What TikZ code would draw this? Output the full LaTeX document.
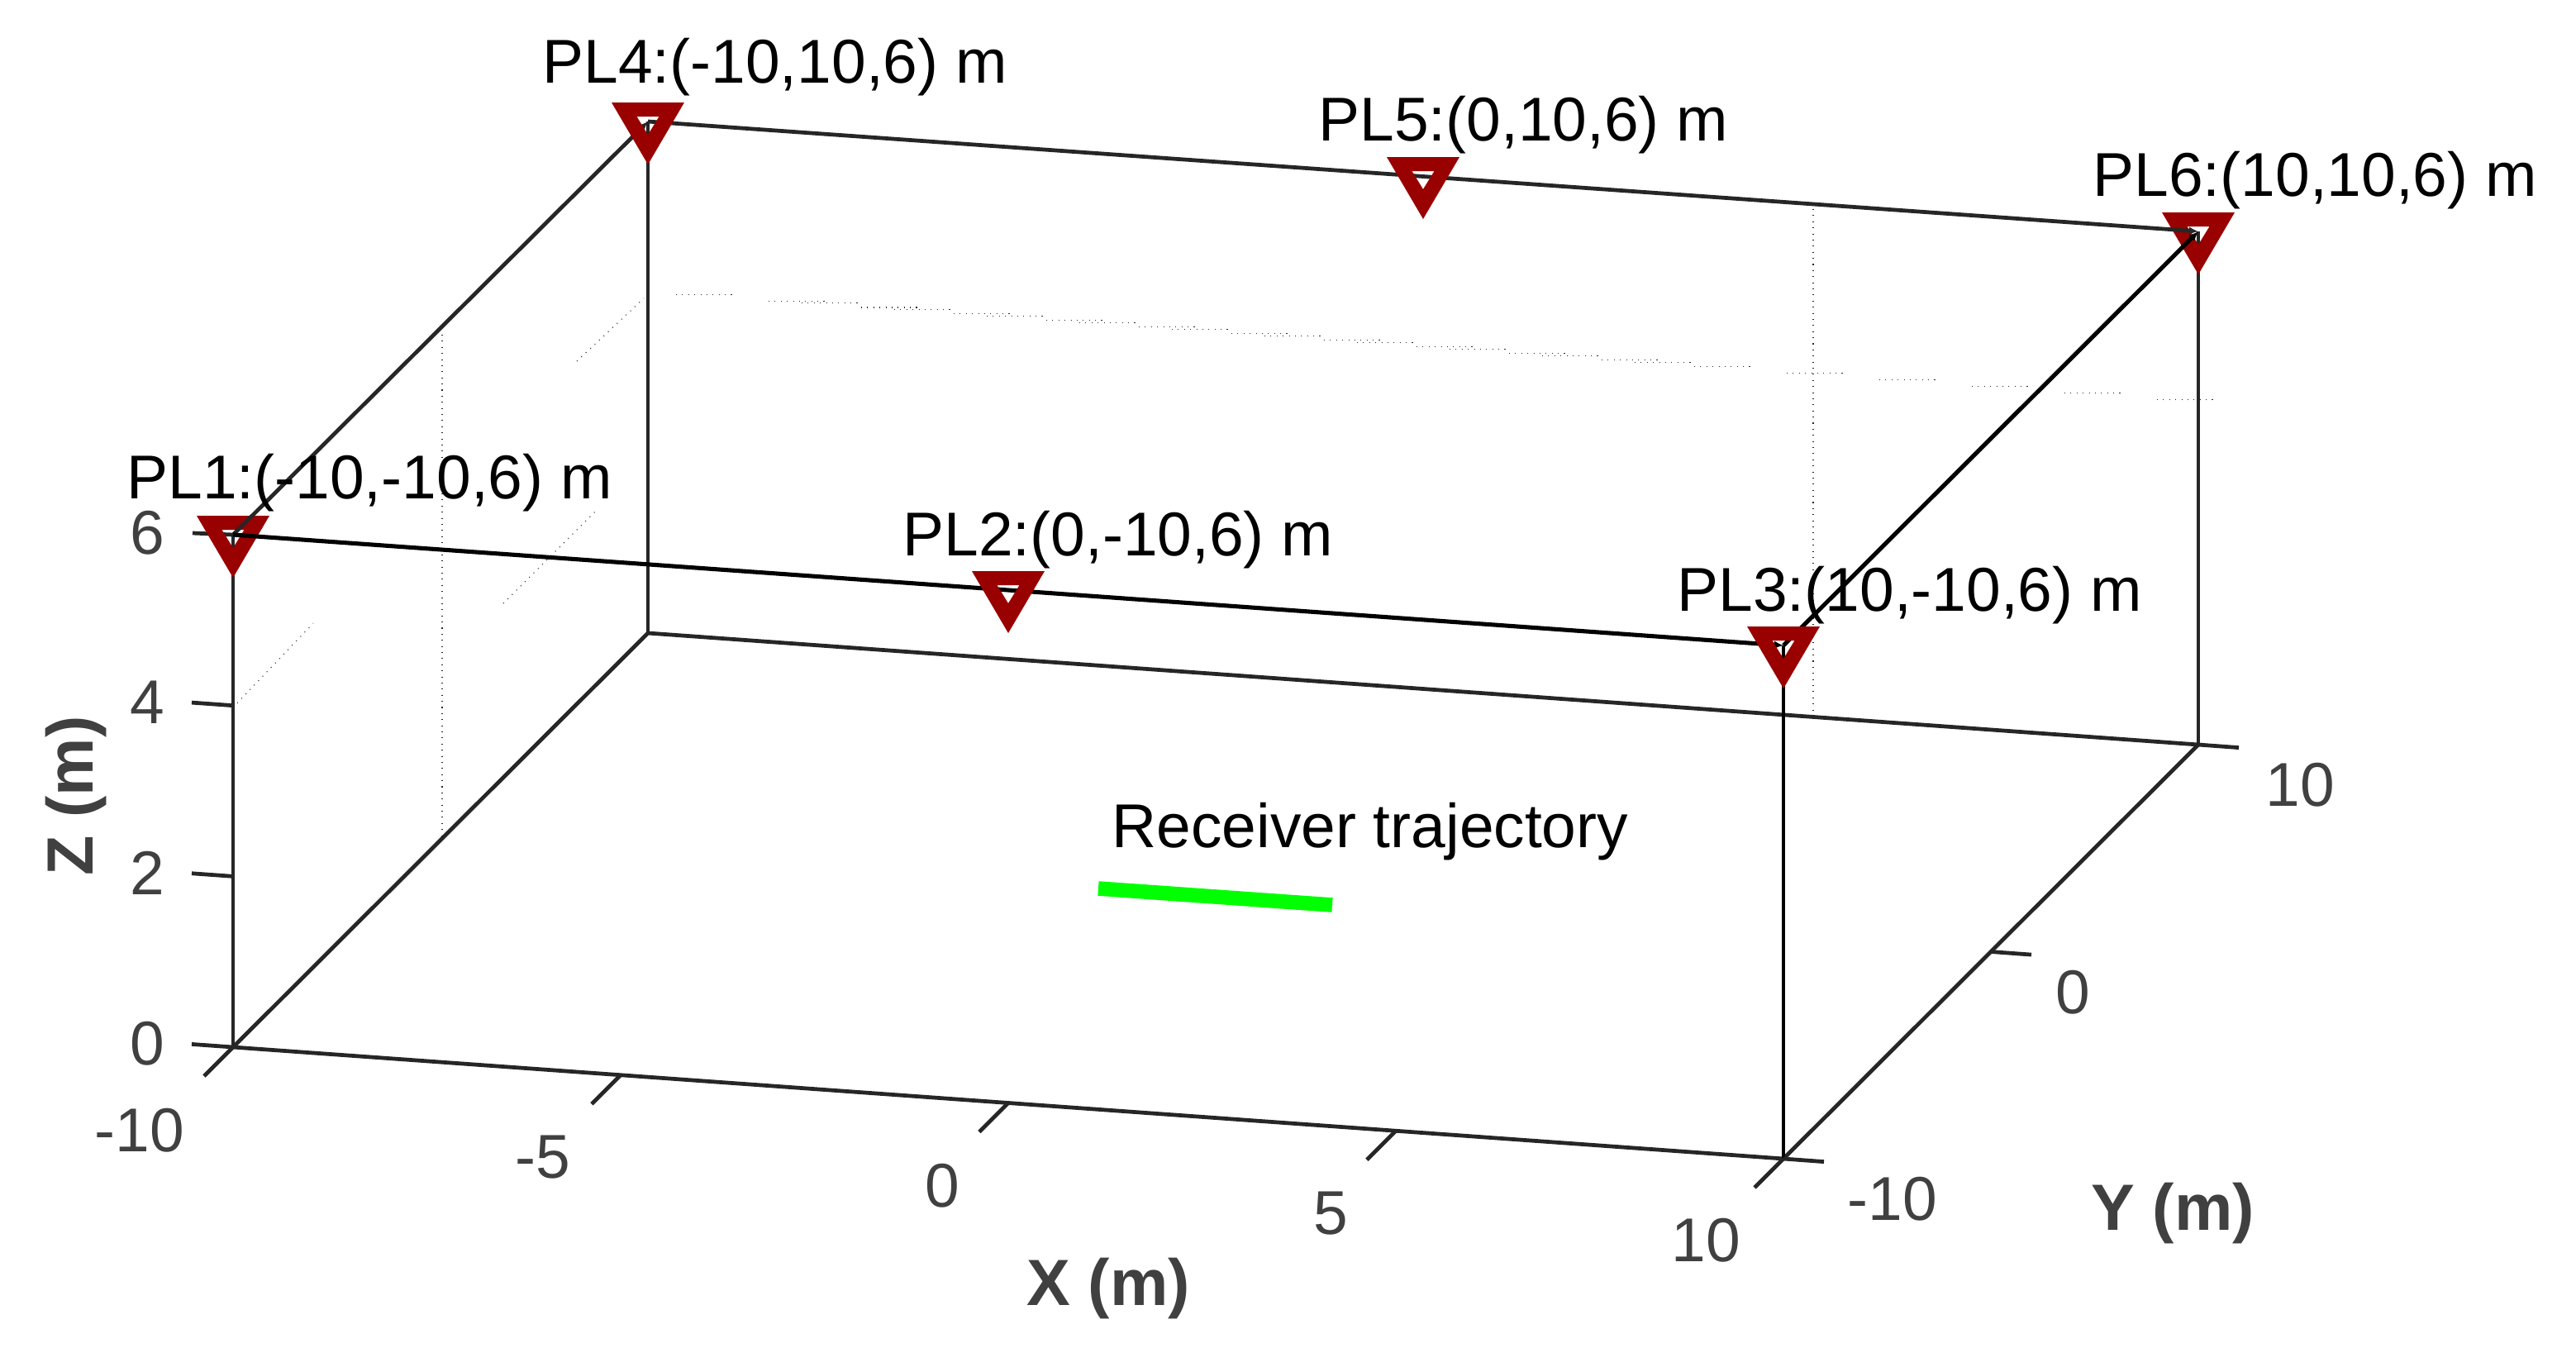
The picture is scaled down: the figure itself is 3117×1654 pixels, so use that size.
\documentclass[tikz,border=0pt]{standalone}
\usepackage{fontspec}
\setmainfont{Liberation Sans}
\usepackage{tikz}
\usetikzlibrary{arrows.meta,calc}
\definecolor{plred}{RGB}{153,0,0}
\definecolor{axisgray}{RGB}{38,38,38}
\definecolor{labelgray}{RGB}{64,64,64}
\tikzset{
  axisline/.style  = {draw=axisgray, line width=1.35pt},
  boxline/.style   = {draw=black, line width=1.45pt, -{Latex[length=3.2pt,width=2.8pt]}},
  backline/.style  = {axisline, -{Latex[length=3.2pt,width=2.8pt]}},
  gridline/.style  = {draw=axisgray, line width=.3pt, dash pattern=on .3pt off 1.8pt},
  pllabel/.style   = {anchor=base west, inner sep=0pt, font=\fontsize{21.3}{25}\selectfont},
  ticklabel/.style = {inner sep=0pt, text=labelgray, font=\fontsize{21.3}{25}\selectfont},
  axislabel/.style = {inner sep=0pt, text=labelgray, font=\fontsize{22.5}{27}\selectfont\bfseries},
  plmark/.pic      = {\fill[plred, even odd rule]
    (-44,-23) -- (44,-23) -- (0,52) -- cycle
    (-13.5,-6) -- (13.5,-6) -- (0,16) -- cycle;}
}
\begin{document}
\begin{tikzpicture}[x=0.01cm,y=-0.01cm]
 \useasboundingbox (0,0) rectangle (3117,1654);

 \coordinate (fl) at (282,1267);
 \coordinate (fr) at (2158,1402);
 \coordinate (bl) at (784,766);
 \coordinate (br) at (2660,901);
 \coordinate (pl1) at (282,647);
 \coordinate (pl2) at (1220,714);
 \coordinate (pl3) at (2158,781);
 \coordinate (pl4) at (784,147);
 \coordinate (pl5) at (1722,213);
 \coordinate (pl6) at (2660,280);

 % grid
 \draw[gridline] (535,405) -- (535,1012);
 \draw[gridline] (2194,253) -- (2194,860);
 \draw[gridline] (282,856) -- (379,754);
 \draw[gridline] (698,437) -- (779,361);
 \draw[gridline] (609,730) -- (722,617);
 \foreach \k in {0,...,16} {
   \pgfmathsetmacro{\xa}{818+112*\k}
   \pgfmathsetmacro{\ya}{353.7+0.0709*(\xa-784)}
   \draw[gridline] (\xa,\ya) -- ++(72,0);
 }
 \foreach \k in {1,...,10} {
   \pgfmathsetmacro{\xa}{858+112*\k}
   \pgfmathsetmacro{\ya}{353.7+0.0709*(\xa-784)}
   \draw[gridline] (\xa,\ya) -- ++(68,0);
 }

 % box
 \draw[axisline] (fl) -- (fr) -- (br) -- (bl) -- cycle;
 \draw[axisline] (fl) -- (pl1);
 \draw[axisline] (bl) -- (pl4);
 \draw[axisline] (br) -- (pl6);
 \draw[axisline,draw=black] (fr) -- (pl3);

 % ticks
 \draw[axisline] (pl1) -- ++(-49,-2);
 \foreach \t in {0,1/3,2/3}
   \draw[axisline] ($(fl)!\t!(pl1)$) -- ++(-50,-3.6);
 \foreach \t in {0,.25,.5,.75,1}
   \draw[axisline] ($(fl)!\t!(fr)$) -- ++(-35,35);
 \foreach \t in {0,.5,1}
   \draw[axisline] ($(fr)!\t!(br)$) -- ++(49,3.6);

 % tick labels
 \foreach \name/\pos/\txt in {z0/{178,1263}/0, z2/{178,1056}/2, z4/{178,850}/4, z6/{178,645}/6,
     xa/{169,1368}/-10, xb/{657,1400}/-5, xc/{1140,1435}/0, xd/{1610,1468}/5, xe/{2064,1501}/10,
     ya/{2290,1451}/-10, yb/{2508,1201}/0, yc/{2783,950}/10}
   \node[ticklabel] (\name) at (\pos) {\txt};

 \node[axislabel] (xlabel) at (1341,1559) {X (m)};
 \node[axislabel] (ylabel) at (2629,1468) {Y (m)};
 \node[axislabel,rotate=90] (zlabel) at (92,963) {Z (m)};

 % markers and top edges, in stacking order
 \pic at (pl1) {plmark};
 \pic at (pl6) {plmark};
 \draw[backline] (pl1) -- (pl4);
 \draw[backline] (pl4) -- (pl6);
 \draw[boxline] (pl1) -- (pl3);
 \draw[boxline] (pl3) -- (pl6);
 \pic at (pl2) {plmark};
 \pic at (pl3) {plmark};
 \pic at (pl4) {plmark};
 \pic at (pl5) {plmark};

 % labels
 \node[pllabel] (lab1) at (153,603) {PL1:(-10,-10,6) m};
 \node[pllabel] (lab2) at (1092,672) {PL2:(0,-10,6) m};
 \node[pllabel] (lab3) at (2029,739) {PL3:(10,-10,6) m};
 \node[pllabel] (lab4) at (656,100) {PL4:(-10,10,6) m};
 \node[pllabel] (lab5) at (1595,170) {PL5:(0,10,6) m};
 \node[pllabel] (lab6) at (2532,237) {PL6:(10,10,6) m};

 \coordinate (rxa) at (1329,1075);
 \coordinate (rxb) at (1612,1095);
 \draw[draw={rgb,255:red,0;green,255;blue,0},line width=5pt] (rxa) -- (rxb);
 \node[pllabel] (rxlabel) at (1345,1025) {Receiver trajectory};
\end{tikzpicture}
\end{document}
